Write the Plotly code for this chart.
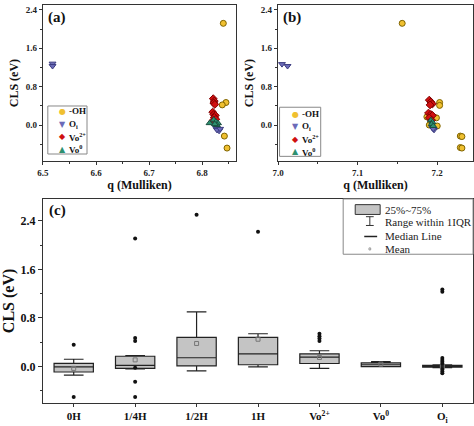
import plotly.graph_objects as go

# panel (a): CLS vs Mulliken charge, first set
oh_q_a = [6.840, 6.845, 6.838, 6.842, 6.847]
oh_cls_a = [2.12, 0.47, 0.42, -0.23, -0.48]
oi_q_a = [6.518, 6.518, 6.826, 6.829, 6.832, 6.828, 6.834]
oi_cls_a = [1.28, 1.23, -0.06, -0.09, -0.12, -0.10, -0.08]
vo2_q_a = [6.821, 6.823, 6.822, 6.824, 6.820, 6.822, 6.825, 6.823, 6.826, 6.821]
vo2_cls_a = [0.55, 0.50, 0.46, 0.43, 0.27, 0.22, 0.20, 0.16, 0.12, 0.10]
vo0_q_a = [6.814, 6.822, 6.826, 6.830, 6.828, 6.824]
vo0_cls_a = [0.04, 0.11, 0.07, 0.04, 0.00, 0.02]

# panel (b): second set
oh_q_b = [7.156, 7.203, 7.203, 7.199, 7.187, 7.200, 7.190, 7.229, 7.231, 7.229, 7.231]
oh_cls_b = [2.12, 0.47, 0.41, 0.15, 0.17, -0.02, 0.00, -0.23, -0.24, -0.47, -0.48]
oi_q_b = [7.005, 7.012, 7.194, 7.196, 7.195]
oi_cls_b = [1.27, 1.23, -0.06, -0.10, -0.08]
vo2_q_b = [7.190, 7.192, 7.194, 7.191, 7.189, 7.192, 7.194, 7.190, 7.193]
vo2_cls_b = [0.52, 0.48, 0.44, 0.42, 0.25, 0.22, 0.20, 0.15, 0.10]
vo0_q_b = [7.192, 7.194, 7.193, 7.195]
vo0_cls_b = [0.10, 0.06, 0.02, -0.02]

# panel (c): box statistics per category
categories = ["0H", "1/4H", "1/2H", "1H", "Vo<sup>2+</sup>", "Vo<sup>0</sup>", "O<sub>i</sub>"]
q1 = [-0.09, -0.03, 0.01, 0.03, 0.05, 0.00, -0.01]
median = [-0.005, 0.02, 0.145, 0.21, 0.155, 0.03, 0.00]
q3 = [0.054, 0.17, 0.48, 0.48, 0.21, 0.06, 0.02]
lower = [-0.14, -0.04, -0.07, -0.005, -0.03, 0.00, -0.02]
upper = [0.12, 0.18, 0.90, 0.54, 0.26, 0.08, 0.03]
mean = [-0.03, 0.11, 0.38, 0.45, 0.15, 0.04, 0.00]
outlier_cat = [0, 0, 1, 1, 1, 1, 1, 1, 2, 3, 4, 4, 4, 4, 6, 6, 6, 6, 6, 6, 6, 6, 6]
outlier_cls = [0.36, -0.50, 2.11, 0.47, 0.42, -0.02, -0.25, -0.50, 2.50, 2.22,
               0.54, 0.50, 0.46, 0.42, 1.27, 1.23, 0.14, 0.11, 0.08, 0.05, -0.05, -0.08, -0.11]

serif = "Liberation Serif"
pos = list(range(len(categories)))

styles = [
    ("-OH", "circle", "#f0c030", "#806400", "\u25cf"),
    ("O<sub>i</sub>", "triangle-down", "#6b6bb8", "#3c3c80", "\u25bc"),
    ("Vo<sup>2+</sup>", "diamond", "#d01010", "#800000", "\u25c6"),
    ("Vo<sup>0</sup>", "triangle-up", "#2e9070", "#1a5040", "\u25b2"),
]

fig = go.Figure()

sets = [
    ("x", "y", [(oh_q_a, oh_cls_a), (oi_q_a, oi_cls_a), (vo2_q_a, vo2_cls_a), (vo0_q_a, vo0_cls_a)]),
    ("x2", "y2", [(oh_q_b, oh_cls_b), (oi_q_b, oi_cls_b), (vo2_q_b, vo2_cls_b), (vo0_q_b, vo0_cls_b)]),
]
for xa, ya, data in sets:
    for (name, sym, col, edge, _), (qq, cc) in zip(styles, data):
        fig.add_trace(go.Scatter(
            x=qq, y=cc, mode="markers", name=name, xaxis=xa, yaxis=ya, showlegend=False,
            marker=dict(symbol=sym, size=6, color=col, line=dict(color=edge, width=1)),
        ))

fig.add_trace(go.Box(
    x=pos, q1=q1, median=median, q3=q3, lowerfence=lower, upperfence=upper,
    name="25%~75%", width=0.64, whiskerwidth=0.5, boxpoints=False, showlegend=False,
    fillcolor="#c4c4c4", line=dict(color="#222222", width=1.2),
    xaxis="x3", yaxis="y3",
))
fig.add_trace(go.Scatter(
    x=pos, y=mean, mode="markers", name="Mean", xaxis="x3", yaxis="y3", showlegend=False,
    marker=dict(symbol="square-open", size=4, color="#777777", line=dict(width=1)),
))
fig.add_trace(go.Scatter(
    x=outlier_cat, y=outlier_cls, mode="markers", showlegend=False, xaxis="x3", yaxis="y3",
    marker=dict(symbol="circle", size=4, color="#111111"),
))

axis_common = dict(showline=True, mirror=True, linecolor="#333", linewidth=1.2, ticks="outside",
                   ticklen=3, tickcolor="#333", showgrid=False, zeroline=False, automargin=False,
                   tickfont=dict(family=serif, size=9, color="#222"))
small_title = dict(family=serif, size=12, color="#111", weight="bold")
minor_x = dict(dtick=0.05, ticklen=2, ticks="outside", tickcolor="#333")
minor_y = dict(dtick=0.4, ticklen=2, ticks="outside", tickcolor="#333")

# hand-built legends (plotly legend rows are too tall for this figure)
shapes = []
annotations = []
for xr, yr, box, mx, tx, rows in [
    ("x domain", "y domain", (0.025, 0.228, 0.045, 0.353), 0.071, 0.125, (0.318, 0.237, 0.157, 0.077)),
    ("x2 domain", "y2 domain", (0.008, 0.219, 0.030, 0.345), 0.062, 0.112, (0.300, 0.222, 0.140, 0.060)),
]:
    shapes.append(dict(type="rect", xref=xr, yref=yr, x0=box[0], x1=box[1], y0=box[2], y1=box[3],
                       line=dict(color="#888", width=1), fillcolor="white", layer="below"))
    for (name, sym, col, edge, glyph), ry in zip(styles, rows):
        annotations.append(dict(text=glyph, xref=xr, yref=yr, x=mx, y=ry, yanchor="middle", showarrow=False,
                                font=dict(family="DejaVu Sans", size=8, color=col)))
        annotations.append(dict(text=name, xref=xr, yref=yr, x=tx, y=ry, xanchor="left", yanchor="middle",
                                showarrow=False, font=dict(family=serif, size=9, color="#111", weight="bold")))

xr, yr = "x3 domain", "y3 domain"
shapes += [
    dict(type="rect", xref=xr, yref=yr, x0=0.698, x1=1.0, y0=0.729, y1=1.0,
         line=dict(color="#888", width=1), fillcolor="white"),
    dict(type="rect", xref=xr, yref=yr, x0=0.726, x1=0.784, y0=0.924, y1=0.972,
         line=dict(color="#333", width=1), fillcolor="#c4c4c4"),
    dict(type="line", xref=xr, yref=yr, x0=0.760, x1=0.760, y0=0.870, y1=0.913, line=dict(color="#333", width=1)),
    dict(type="line", xref=xr, yref=yr, x0=0.751, x1=0.769, y0=0.913, y1=0.913, line=dict(color="#333", width=1)),
    dict(type="line", xref=xr, yref=yr, x0=0.751, x1=0.769, y0=0.870, y1=0.870, line=dict(color="#333", width=1)),
    dict(type="line", xref=xr, yref=yr, x0=0.747, x1=0.777, y0=0.816, y1=0.816, line=dict(color="#222", width=1.5)),
    dict(type="rect", xref=xr, yref=yr, x0=0.758, x1=0.762, y0=0.750, y1=0.760,
         line=dict(color="#888", width=0.8), fillcolor="white"),
]
for label, ry in [("25%~75%", 0.946), ("Range within 1IQR", 0.889), ("Median Line", 0.818), ("Mean", 0.755)]:
    annotations.append(dict(text=label, xref=xr, yref=yr, x=0.791, y=ry, xanchor="left", yanchor="middle",
                            showarrow=False, font=dict(family=serif, size=11, color="#222", weight="normal")))

for text, ref in [("(a)", "x"), ("(b)", "x2")]:
    annotations.append(dict(text=text, xref=ref + " domain", yref=ref.replace("x", "y") + " domain",
                            x=0.015, y=0.99, xanchor="left", yanchor="top", showarrow=False,
                            font=dict(family=serif, size=15, color="#111", weight="bold")))
annotations.append(dict(text="(c)", xref="x3 domain", yref="y3 domain", x=0.01, y=0.995, xanchor="left",
                        yanchor="top", showarrow=False, font=dict(family=serif, size=15, color="#111", weight="bold")))

fig.update_layout(
    width=474, height=426, margin=dict(l=0, r=0, t=0, b=0),
    paper_bgcolor="white", plot_bgcolor="white",
    font=dict(family=serif, color="#111", weight="bold"),
    showlegend=False,
    xaxis=dict(domain=[0.0907, 0.498], anchor="y", range=[6.5, 6.864], tickvals=[6.5, 6.6, 6.7, 6.8],
               tickformat=".1f", minor=minor_x,
               title=dict(text="q (Mulliken)", font=small_title, standoff=2), **axis_common),
    yaxis=dict(domain=[0.622, 0.988], anchor="x", range=[-0.75, 2.5], tickvals=[0, 0.8, 1.6, 2.4],
               tickformat=".1f", minor=minor_y,
               title=dict(text="CLS (eV)", font=small_title, standoff=4), **axis_common),
    xaxis2=dict(domain=[0.5865, 0.998], anchor="y2", range=[7.0, 7.245], tickvals=[7.0, 7.1, 7.2],
                tickformat=".1f", minor=minor_x,
                title=dict(text="q (Mulliken)", font=small_title, standoff=2), **axis_common),
    yaxis2=dict(domain=[0.622, 0.988], anchor="x2", range=[-0.75, 2.5], tickvals=[0, 0.8, 1.6, 2.4],
                tickformat=".1f", minor=minor_y,
                title=dict(text="CLS (eV)", font=small_title, standoff=4), **axis_common),
    xaxis3=dict(domain=[0.0907, 0.998], anchor="y3", range=[-0.5, 6.5], tickvals=pos, ticktext=categories,
                showline=True, mirror=True, linecolor="#333", linewidth=1.2, ticks="outside", ticklen=3,
                tickcolor="#333", showgrid=False, zeroline=False, automargin=False,
                tickfont=dict(family=serif, size=11, color="#111", weight="bold")),
    yaxis3=dict(domain=[0.054, 0.533], anchor="x3", range=[-0.6, 2.76], tickvals=[0, 0.8, 1.6, 2.4],
                tickformat=".1f", minor=minor_y,
                showline=True, mirror=True, linecolor="#333", linewidth=1.2, ticks="outside", ticklen=4,
                tickcolor="#333", showgrid=False, zeroline=False, automargin=False,
                tickfont=dict(family=serif, size=12, color="#111", weight="bold"),
                title=dict(text="CLS (eV)", font=dict(family=serif, size=16, color="#111", weight="bold"),
                           standoff=6)),
    shapes=shapes,
    annotations=annotations,
)

fig.write_html("out.html", config={"displayModeBar": False},
               post_script="document.body.style.margin = '0';")
